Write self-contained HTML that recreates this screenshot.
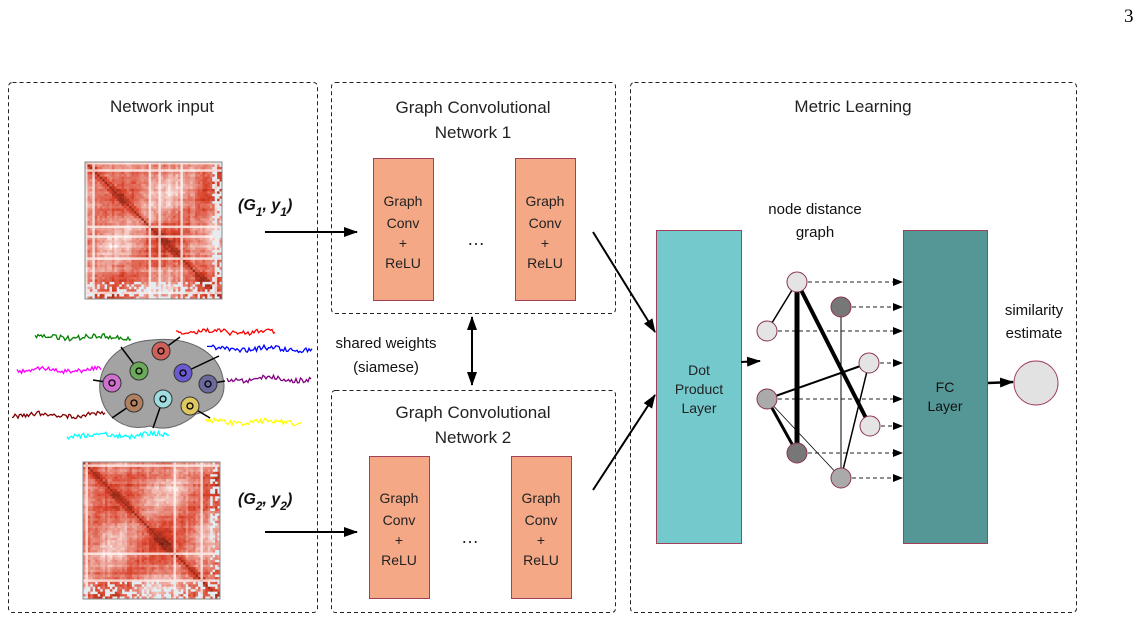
<!DOCTYPE html>
<html><head><meta charset="utf-8"><style>
body{margin:0;background:#fff;width:1143px;height:620px;overflow:hidden}
svg text{font-family:"Liberation Sans",sans-serif}
</style></head><body>
<svg id="s" width="1143" height="620" viewBox="0 0 1143 620" xmlns="http://www.w3.org/2000/svg">
<defs>
<marker id="a" markerWidth="10" markerHeight="8" refX="9" refY="4" orient="auto" markerUnits="userSpaceOnUse"><path d="M0,0 L10,4 L0,8z" fill="#000"/></marker>
<marker id="b" markerWidth="14" markerHeight="10" refX="13" refY="5" orient="auto-start-reverse" markerUnits="userSpaceOnUse"><path d="M0,0 L14,5 L0,10z" fill="#000"/></marker>
</defs>
<text x="1124" y="22" font-size="19" style="font-family:'Liberation Serif',serif">3</text>
<g fill="none" stroke="#222" stroke-width="1" stroke-dasharray="4,3">
<rect x="8.5" y="82.5" width="309" height="530" rx="4"/>
<rect x="331.5" y="82.5" width="284" height="231" rx="4"/>
<rect x="331.5" y="390.5" width="284" height="222" rx="4"/>
<rect x="630.5" y="82.5" width="446" height="530" rx="4"/>
</g>
<g font-size="17" fill="#222" text-anchor="middle">
<text x="162" y="112">Network input</text>
<text x="473" y="113">Graph Convolutional</text>
<text x="473" y="138">Network 1</text>
<text x="473" y="418">Graph Convolutional</text>
<text x="473" y="443">Network 2</text>
<text x="853" y="112">Metric Learning</text>
</g>
<g font-size="15" fill="#111" text-anchor="middle">
<text x="815" y="214">node distance</text>
<text x="815" y="237">graph</text>
<text x="1034" y="315">similarity</text>
<text x="1034" y="338">estimate</text>
<text x="386" y="348">shared weights</text>
<text x="386" y="372">(siamese)</text>
</g>
<g font-size="16" font-weight="bold" font-style="italic" fill="#111">
<text x="238" y="210">(G<tspan font-size="12" dy="6">1</tspan><tspan dy="-6">, y</tspan><tspan font-size="12" dy="6">1</tspan><tspan dy="-6">)</tspan></text>
<text x="238" y="504">(G<tspan font-size="12" dy="6">2</tspan><tspan dy="-6">, y</tspan><tspan font-size="12" dy="6">2</tspan><tspan dy="-6">)</tspan></text>
</g>
<g fill="#f4a885" stroke="#a0405a" stroke-width="1">
<rect x="373.5" y="158.5" width="60" height="142"/>
<rect x="515.5" y="158.5" width="60" height="142"/>
<rect x="369.5" y="456.5" width="60" height="142"/>
<rect x="511.5" y="456.5" width="60" height="142"/>
</g>
<g font-size="14" fill="#222" text-anchor="middle">
<text x="403" y="206">Graph</text><text x="403" y="228">Conv</text><text x="403" y="248">+</text><text x="403" y="268">ReLU</text>
<text x="545" y="206">Graph</text><text x="545" y="228">Conv</text><text x="545" y="248">+</text><text x="545" y="268">ReLU</text>
<text x="399" y="503">Graph</text><text x="399" y="525">Conv</text><text x="399" y="545">+</text><text x="399" y="565">ReLU</text>
<text x="541" y="503">Graph</text><text x="541" y="525">Conv</text><text x="541" y="545">+</text><text x="541" y="565">ReLU</text>
<text x="476" y="245" font-size="18">…</text>
<text x="470" y="543" font-size="18">…</text>
</g>
<rect x="656.5" y="230.5" width="85" height="313" fill="#74c9cc" stroke="#a0405a"/>
<text x="699" y="375" font-size="14" text-anchor="middle" fill="#222">Dot</text>
<text x="699" y="394" font-size="14" text-anchor="middle" fill="#222">Product</text>
<text x="699" y="413" font-size="14" text-anchor="middle" fill="#222">Layer</text>
<rect x="903.5" y="230.5" width="84" height="313" fill="#559797" stroke="#a0405a"/>
<text x="945" y="392" font-size="14" text-anchor="middle" fill="#111">FC</text>
<text x="945" y="411" font-size="14" text-anchor="middle" fill="#111">Layer</text>
<circle cx="1036" cy="383" r="22" fill="#e2e2e2" stroke="#a0405a"/>
<g stroke="#000" stroke-width="2" fill="none">
<line x1="265" y1="232" x2="357" y2="232" marker-end="url(#b)"/>
<line x1="265" y1="532" x2="357" y2="532" marker-end="url(#b)"/>
<line x1="593" y1="232" x2="655" y2="332" marker-end="url(#b)"/>
<line x1="593" y1="490" x2="655" y2="395" marker-end="url(#b)"/>
<line x1="472" y1="317" x2="472" y2="385" marker-start="url(#b)" marker-end="url(#b)"/>
<line x1="741" y1="362" x2="760" y2="361" marker-end="url(#b)"/>
<line x1="988" y1="383" x2="1013" y2="382" stroke-width="2.5" marker-end="url(#b)"/>
</g>
<g stroke="#222" stroke-dasharray="4,3" stroke-width="1" marker-end="url(#a)">
<line x1="808" y1="282" x2="902" y2="282"/>
<line x1="852" y1="307" x2="902" y2="307"/>
<line x1="778" y1="331" x2="902" y2="331"/>
<line x1="880" y1="363" x2="902" y2="363"/>
<line x1="778" y1="399" x2="902" y2="399"/>
<line x1="881" y1="426" x2="902" y2="426"/>
<line x1="808" y1="453" x2="902" y2="453"/>
<line x1="852" y1="478" x2="902" y2="478"/>
</g>
<g stroke="#000" fill="none">
<line x1="797" y1="282" x2="767" y2="331" stroke-width="1.5"/>
<line x1="797" y1="282" x2="797" y2="453" stroke-width="5"/>
<line x1="797" y1="282" x2="870" y2="426" stroke-width="4"/>
<line x1="841" y1="307" x2="841" y2="478" stroke-width="1"/>
<line x1="767" y1="399" x2="869" y2="363" stroke-width="2"/>
<line x1="767" y1="399" x2="797" y2="453" stroke-width="3"/>
<line x1="767" y1="399" x2="841" y2="478" stroke-width="0.8"/>
<line x1="869" y1="363" x2="841" y2="478" stroke-width="1.5"/>
</g>
<g stroke="#8a3550" stroke-width="1">
<circle cx="797" cy="282" r="10" fill="#e4e4e4"/>
<circle cx="841" cy="307" r="10" fill="#777"/>
<circle cx="767" cy="331" r="10" fill="#e4e4e4"/>
<circle cx="869" cy="363" r="10" fill="#e4e4e4"/>
<circle cx="767" cy="399" r="10" fill="#aaa"/>
<circle cx="870" cy="426" r="10" fill="#e4e4e4"/>
<circle cx="797" cy="453" r="10" fill="#777"/>
<circle cx="841" cy="478" r="10" fill="#aaa"/>
</g>
<g id="hm1"></g><g id="hm2"></g>
<path d="M100,392 C97,365 118,342 152,340 C190,336 218,352 223,378 C228,400 214,410 196,414 C185,424 168,432 150,426 C128,432 104,420 100,392z" fill="#a3a3a3" stroke="#666"/>
<g id="waves"></g>
<g id="rois"></g>
</svg>
<script>
var seed=11;function r(){seed=(seed*16807)%2147483647;return seed/2147483647;}
var NS="http://www.w3.org/2000/svg";
function el(p,t,a){var e=document.createElementNS(NS,t);for(var k in a)e.setAttribute(k,a[k]);p.appendChild(e);return e;}
function hm(id,x0,y0,sz){var g=document.getElementById(id);var n=56,c=sz/n;var rows=[];for(var i=0;i<n;i++){rows.push(r());}
for(var i=0;i<n;i++)for(var j=0;j<n;j++){var blk=Math.sin(i/7)*Math.sin(j/7)*0.25+0.1*Math.cos((i+j)/5);var v=0.2+0.45*(rows[i]+rows[j])/2+0.2*r()+blk;var d=Math.abs(i-j);if(d==0)v=1.1;else if(d<3)v+=0.2;
if(rows[i]<0.08||rows[j]<0.08)v*=0.25;
var L,h=8,s=70;if((i>n-8||j>n-5)&&r()<0.4){h=200;s=40;L=92;}else L=Math.max(25,97-v*55);
el(g,'rect',{x:(x0+j*c).toFixed(2),y:(y0+i*c).toFixed(2),width:(c+0.3).toFixed(2),height:(c+0.3).toFixed(2),fill:'hsl('+h+','+s+'%,'+L.toFixed(0)+'%)'});}
el(g,'rect',{x:x0,y:y0,width:sz,height:sz,fill:'none',stroke:'#888'});}
hm('hm1',85,162,137);hm('hm2',83,462,137);
var w=document.getElementById('waves');
[[35,337,132,'green'],[176,332,275,'red'],[17,370,101,'magenta'],[207,349,312,'blue'],[227,379,311,'purple'],[12,415,105,'#800000'],[205,422,302,'yellow'],[67,435,170,'cyan']].forEach(function(a){var p='';for(var x=a[0];x<=a[2];x+=1.5){p+=(p?'L':'M')+x+','+(a[1]+(r()-0.5)*5+Math.sin(x/9)*1.5).toFixed(1);}el(w,'path',{d:p,stroke:a[3],fill:'none','stroke-width':1.3});});
var ro=document.getElementById('rois');
[[161,351,'#d0605a',180,337],[139,371,'#6aaa5a',121,347],[183,373,'#6a5acf',219,356],[112,383,'#cf70cf',93,380],[208,384,'#6a6a9a',225,381],[134,403,'#b08060',112,418],[163,399,'#a0dde0',153,428],[190,406,'#e0c860',210,418]].forEach(function(a){el(ro,'line',{x1:a[0],y1:a[1],x2:a[3],y2:a[4],stroke:'#000','stroke-width':1.5});el(ro,'circle',{cx:a[0],cy:a[1],r:9,fill:a[2],stroke:'#333'});el(ro,'circle',{cx:a[0],cy:a[1],r:3,fill:'none',stroke:'#000','stroke-width':1.3});});
</script>
</body></html>
